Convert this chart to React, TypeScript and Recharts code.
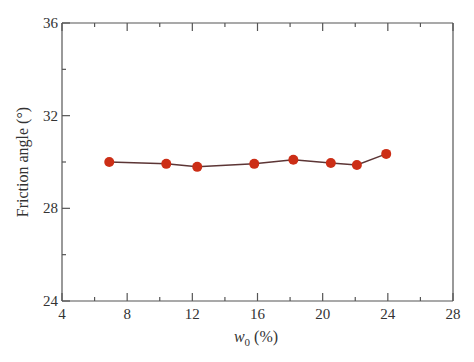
import React from "react";
import { LineChart, Line, XAxis, YAxis } from "recharts";

const moisture = [6.9, 10.4, 12.3, 15.8, 18.2, 20.5, 22.1, 23.9];
const friction = [30.0, 29.92, 29.79, 29.92, 30.1, 29.96, 29.87, 30.35];
const xTicks = [4, 6, 8, 10, 12, 14, 16, 18, 20, 22, 24, 26, 28];
const xMajor = [4, 8, 12, 16, 20, 24, 28];
const yTicks = [24, 26, 28, 30, 32, 34, 36];
const yMajor = [24, 28, 32, 36];

const data = moisture.map((m, i) => ({ m, f: friction[i] }));

const AXIS = "#555";
const FONT = "'Liberation Serif', 'Times New Roman', serif";
const MAJOR = 8;
const MINOR = 4;

const makeTick = (side: "bottom" | "top" | "left" | "right", major: number[], showLabel: boolean) => (props: any) => {
  const { x, y, payload } = props;
  const v = payload.value;
  const isMajor = major.includes(v);
  const len = isMajor ? MAJOR : MINOR;
  let line;
  let label = null;
  if (side === "bottom") {
    line = <line x1={x} x2={x} y1={y} y2={y - len} stroke={AXIS} strokeWidth={1.2} />;
    if (showLabel && isMajor)
      label = (
        <text x={x} y={y + 18} textAnchor="middle" fontFamily={FONT} fontSize={15} fill="#333">
          {v}
        </text>
      );
  } else if (side === "top") {
    line = <line x1={x} x2={x} y1={y} y2={y + len} stroke={AXIS} strokeWidth={1.2} />;
  } else if (side === "left") {
    line = <line x1={x} x2={x + len} y1={y} y2={y} stroke={AXIS} strokeWidth={1.2} />;
    if (showLabel && isMajor)
      label = (
        <text x={x - 4} y={y + 5} textAnchor="end" fontFamily={FONT} fontSize={15} fill="#333">
          {v}
        </text>
      );
  } else {
    line = <line x1={x} x2={x - len} y1={y} y2={y} stroke={AXIS} strokeWidth={1.2} />;
  }
  return (
    <g>
      {line}
      {label}
    </g>
  );
};

export default function App() {
  return (
    <div style={{ position: "absolute", left: 0, top: 0, width: 474, height: 362, background: "#fff" }}>
      <LineChart width={474} height={362} data={data} margin={{ top: 22, right: 20, left: 0, bottom: 0 }}>
        <XAxis
          xAxisId="b"
          dataKey="m"
          type="number"
          domain={[4, 28]}
          ticks={xTicks}
          interval={0}
          tickSize={0}
          tickMargin={0}
          tickLine={false}
          axisLine={{ stroke: AXIS, strokeWidth: 1.2 }}
          tick={makeTick("bottom", xMajor, true)}
          height={61}
        />
        <XAxis
          xAxisId="t"
          orientation="top"
          dataKey="m"
          type="number"
          domain={[4, 28]}
          ticks={xTicks}
          interval={0}
          tickSize={0}
          tickMargin={0}
          tickLine={false}
          axisLine={{ stroke: AXIS, strokeWidth: 1.2 }}
          tick={makeTick("top", xMajor, false)}
          height={1}
        />
        <YAxis
          yAxisId="l"
          type="number"
          domain={[24, 36]}
          ticks={yTicks}
          interval={0}
          tickSize={0}
          tickMargin={0}
          tickLine={false}
          axisLine={{ stroke: AXIS, strokeWidth: 1.2 }}
          tick={makeTick("left", yMajor, true)}
          width={62}
        />
        <YAxis
          yAxisId="r"
          orientation="right"
          type="number"
          domain={[24, 36]}
          ticks={yTicks}
          interval={0}
          tickSize={0}
          tickMargin={0}
          tickLine={false}
          axisLine={{ stroke: AXIS, strokeWidth: 1.2 }}
          tick={makeTick("right", yMajor, false)}
          width={1}
        />
        <Line
          xAxisId="b"
          yAxisId="l"
          dataKey="f"
          stroke="#5c3535"
          strokeWidth={1.5}
          dot={{ r: 5, fill: "#cc2e16", stroke: "#cc2e16", strokeWidth: 0 }}
          isAnimationActive={false}
        />
        <text x={24} y={162} transform="rotate(-90 24 162)" textAnchor="middle" dominantBaseline="middle" fontFamily={FONT} fontSize={16} fill="#333">
          Friction angle (°)
        </text>
        <text x={256} y={342} textAnchor="middle" fontFamily={FONT} fontSize={16} fill="#333">
          <tspan fontStyle="italic">w</tspan>
          <tspan fontSize={11} dy={4}>0</tspan>
          <tspan dy={-4}> (%)</tspan>
        </text>
      </LineChart>
    </div>
  );
}
